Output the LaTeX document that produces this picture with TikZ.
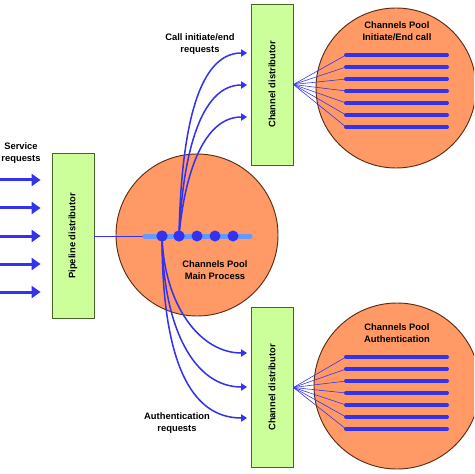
\documentclass[tikz,border=0pt]{standalone}
\usepackage{fontspec}
\setmainfont{Liberation Sans}
\usepackage{xcolor}
\usepackage{graphicx}
\usetikzlibrary{arrows.meta}
\usetikzlibrary{positioning}

\definecolor{poolfill}{RGB}{255,153,102}
\definecolor{poolline}{RGB}{90,45,20}
\definecolor{distfill}{RGB}{204,255,153}
\definecolor{distline}{RGB}{70,100,40}
\definecolor{wire}{RGB}{51,51,238}
\definecolor{lightwire}{RGB}{102,153,255}

\tikzset{
  lbl/.style={align=center, inner sep=0pt, font=\fontsize{8}{10}\selectfont\bfseries},
  dist/.style={rectangle, draw=distline, fill=distfill, line width=0.7pt, minimum width=12.6mm, lbl},
  pool/.style={circle, draw=poolline, fill=poolfill, line width=0.8pt, inner sep=0pt},
  dot/.style={circle, fill=wire, inner sep=0pt, minimum size=3.3mm},
  svc/.style={wire, line width=0.9mm, -{Triangle[length=2.7mm, width=3.6mm]}},
  req/.style={wire, line width=1.3pt, -{Triangle[length=1.8mm, width=2.2mm]}},
  fan/.style={wire, line width=0.5pt},
  chan/.style={wire, line width=1.2mm, line cap=round},
}

\begin{document}
\begin{tikzpicture}[x=0.3mm, y=-0.3mm]

\useasboundingbox (0,0) rectangle (474,474);
\clip (0,0) rectangle (474,474);

% Pools
\node[pool, minimum size=48.6mm] at (197,235) (main) {};
\node[pool, minimum size=48mm] at (396,88) (poolcall) {};
\node[pool, minimum size=49.8mm] at (397,386) (poolauth) {};

% Distributors
\node[dist, minimum height=49.5mm] at (73,236) (pipe) {\rotatebox{90}{Pipeline distributor}};
\node[dist, minimum height=48.3mm] at (272,84.5) (distcall) {\rotatebox{90}{Channel distributor}};
\node[dist, minimum height=48mm] at (272,387.5) (distauth) {\rotatebox{90}{Channel distributor}};

% Texts
\node[lbl] at (21,153) (svctext) {Service\\requests};
\node[lbl] at (200,44) (calltext) {Call initiate/end\\requests};
\node[lbl] at (177,423) (authtext) {Authentication\\requests};
\node[lbl] at (215,270) (maintext) {Channels Pool\\Main Process};
\node[lbl] at (397,31) (calltitle) {Channels Pool\\Initiate/End call};
\node[lbl] at (397,333) (authtitle) {Channels Pool\\Authentication};

% Service requests
\foreach \y [count=\i] in {180,208,236,264,292} {
  \coordinate (s\i) at (0,\y);
  \draw[svc, shorten >=3.3mm] (s\i) -- (s\i -| pipe.west);
}

% Main process queue
\coordinate (qin) at (145,236);
\coordinate (qout) at (250,236);
\draw[fan, line width=0.7pt] (pipe.east |- qin) -- (qin);
\draw[lightwire, line width=1.5mm, line cap=round] (qin) -- (qout);

% Requests to the distributors
\coordinate (c1) at (247,53);
\coordinate (c2) at (247,85);
\coordinate (c3) at (247,117);
\coordinate (a1) at (247,353);
\coordinate (a2) at (247,387);
\coordinate (a3) at (247,418);
\node[dot] at (162,236) (d1) {};
\node[dot] at (179,236) (d2) {};
\draw[req] (d2.center) .. controls (181,140) and (195,53) .. (c1);
\draw[req] (d2.center) .. controls (183,155) and (200,85) .. (c2);
\draw[req] (d2.center) .. controls (185,170) and (205,117) .. (c3);
\draw[req] (d1.center) .. controls (164,305) and (200,353) .. (a1);
\draw[req] (d1.center) .. controls (163,330) and (195,387) .. (a2);
\draw[req] (d1.center) .. controls (162,360) and (190,418) .. (a3);

% Queue dots
\foreach \x [count=\i] in {162,179,197,215,233} {
  \node[dot] at (\x,236) (q\i) {};
}

% Channels
\foreach \i in {0,...,6} {
  \coordinate (tc\i) at (346,55+12*\i);
  \coordinate (ta\i) at (346,357+12*\i);
  \draw[fan] (distcall.east) -- (tc\i);
  \draw[fan] (distauth.east) -- (ta\i);
  \draw[chan] (tc\i) -- ++(101,0);
  \draw[chan] (ta\i) -- ++(101,0);
}

\end{tikzpicture}
\end{document}
